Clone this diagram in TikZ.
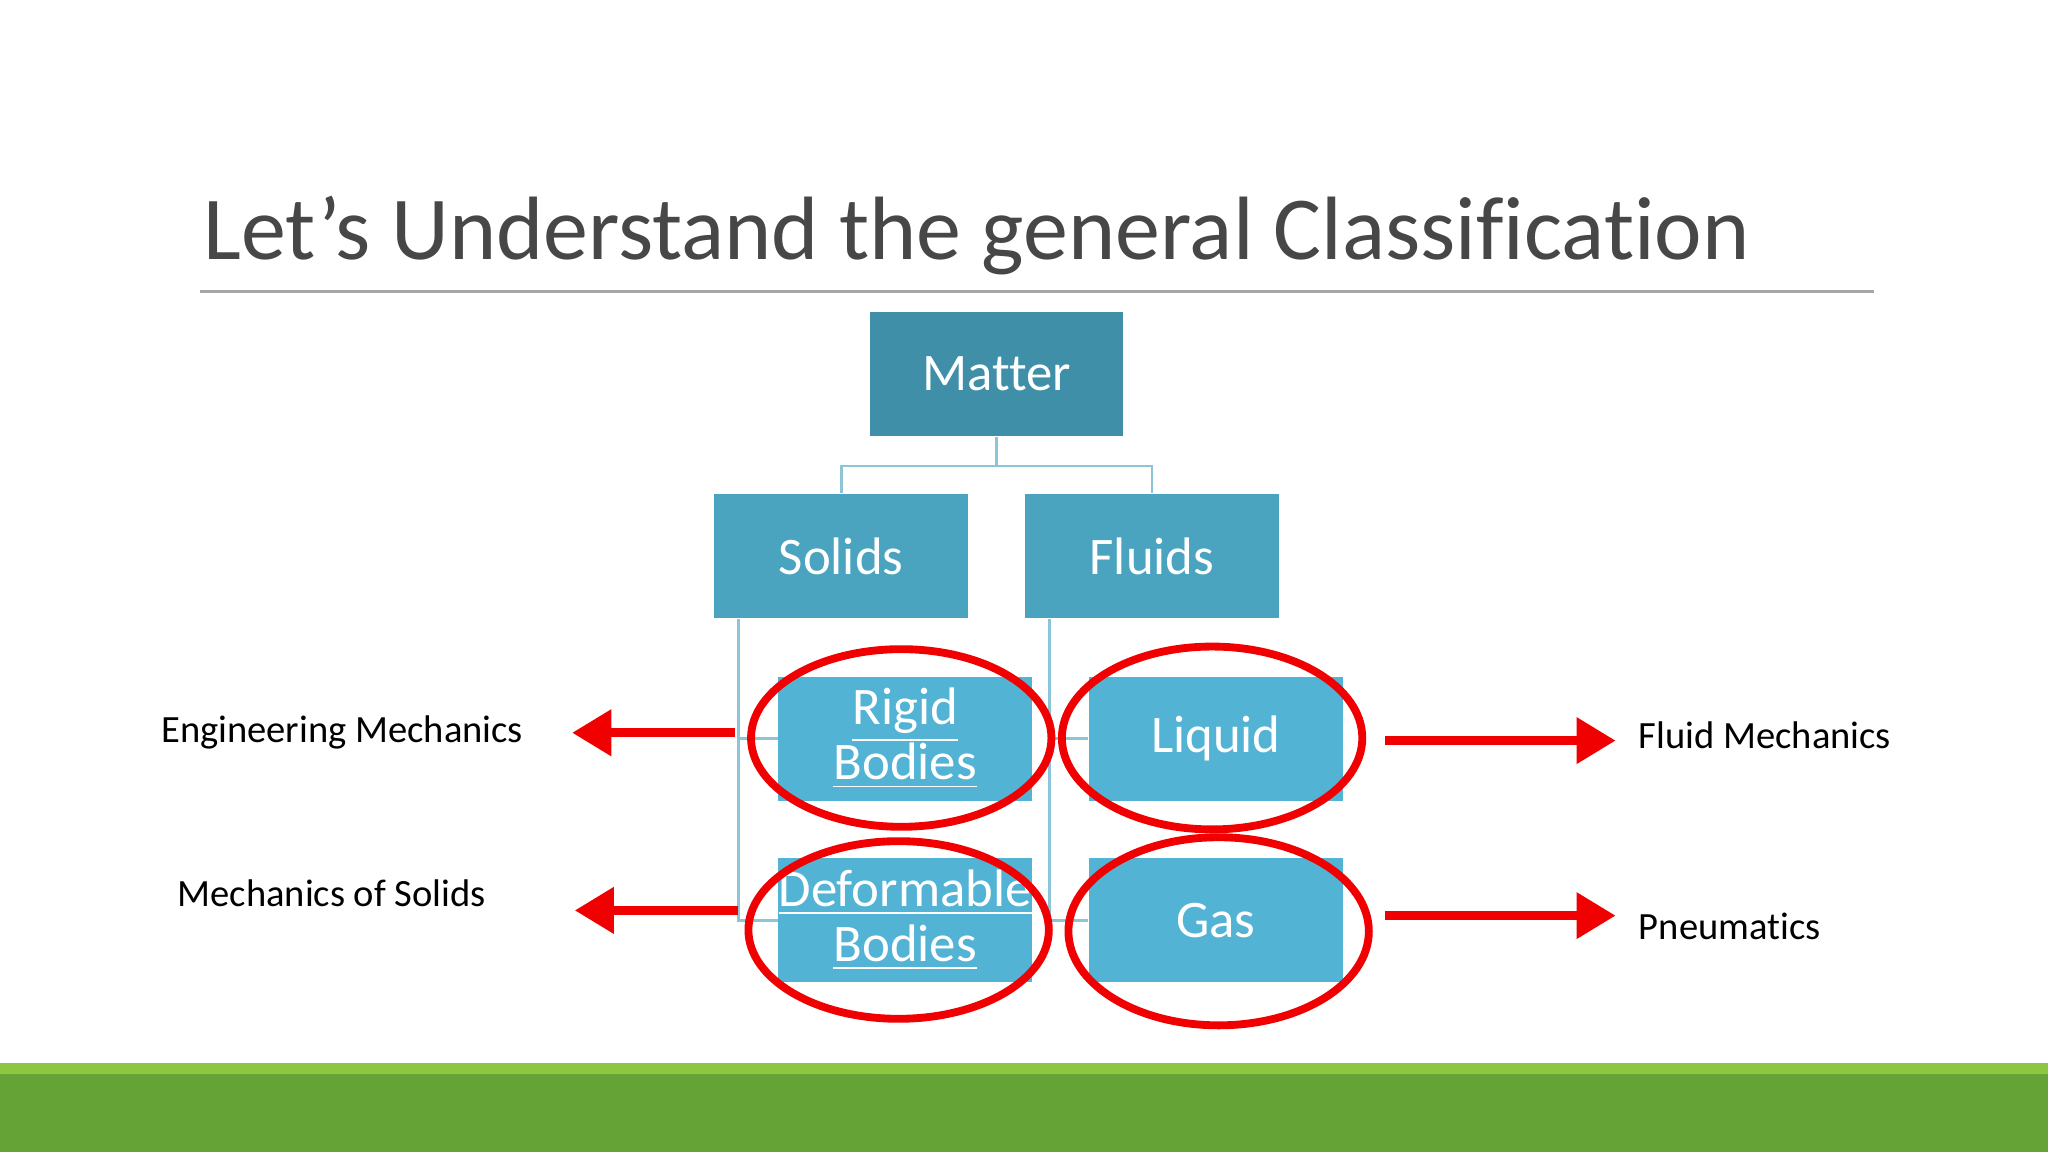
\documentclass[tikz,border=0pt]{standalone}
\usepackage{fontspec}
\setmainfont{Carlito}[Ligatures=NoCommon]
\usetikzlibrary{arrows.meta}
\definecolor{dark}{HTML}{3F8FA8}
\definecolor{mid}{HTML}{4AA3BF}
\definecolor{light}{HTML}{52B3D4}
\definecolor{conn}{HTML}{8CC4D8}
\definecolor{rd}{HTML}{F00000}
\definecolor{gtop}{HTML}{8DC63F}
\definecolor{gbot}{HTML}{66A336}
\definecolor{ttl}{HTML}{474747}
\tikzset{
 box/.style={fill=#1,minimum width=1.94cm,minimum height=0.95cm,text=white,font=\fontsize{11.5}{13}\selectfont,align=center,inner sep=0pt},
 ring/.style={draw=rd,line width=0.06cm},
 redarrow/.style={draw=rd,line width=0.07cm,-{Triangle[length=0.3cm,width=0.34cm]}},
 lab/.style={font=\fontsize{8.4}{10}\selectfont,text=black},
 con/.style={draw=conn,line width=0.6pt}
}
\begin{document}
\begin{tikzpicture}[x=1cm,y=-1cm]
\useasboundingbox (0,0) rectangle (15.68,8.82);
\fill[white] (0,0) rectangle (15.68,8.82);
\fill[gbot] (0,8.14) rectangle (15.68,8.82);
\fill[gtop] (0,8.14) rectangle (15.68,8.22);
\node[anchor=base west,inner sep=0pt,text=ttl,font=\fontsize{19.6}{24}\selectfont] (title) at (1.55,1.99) {Let’s Understand the general Classification};
\draw[gray!70,line width=0.6pt] (1.53,2.23) -- (14.35,2.23);
\node[box=dark] (matter) at (7.63,2.865) {Matter};
\node[box=mid] (solids) at (6.44,4.26) {Solids};
\node[box=mid] (fluids) at (8.82,4.26) {Fluids};
\node[box=light] (rigid) at (6.93,5.655) {\underline{Rigid}\\[-1pt]\underline{Bodies}};
\node[box=light] (liquid) at (9.31,5.655) {Liquid};
\node[box=light] (deform) at (6.93,7.045) {\underline{Deformable}\\[-1pt]\underline{Bodies}};
\node[box=light] (gas) at (9.31,7.045) {Gas};
\draw[con] (matter.south) -- ++(0,0.22) -| (solids.north);
\draw[con] (matter.south) -- ++(0,0.22) -| (fluids.north);
\draw[con] ([xshift=0.19cm]solids.south west) |- (deform.west);
\draw[con] ([xshift=0.19cm]solids.south west) |- (rigid.west);
\draw[con] ([xshift=0.19cm]fluids.south west) |- (gas.west);
\draw[con] ([xshift=0.19cm]fluids.south west) |- (liquid.west);
\draw[ring] (6.90,5.65) ellipse (1.15 and 0.68);
\draw[ring] (9.28,5.65) ellipse (1.15 and 0.70);
\draw[ring] (6.88,7.12) ellipse (1.15 and 0.68);
\draw[ring] (9.33,7.13) ellipse (1.15 and 0.72);
\node[lab] (em) at (2.62,5.61) {Engineering Mechanics};
\node[lab] (ms) at (2.54,6.84) {Mechanics of Solids};
\node[lab,anchor=west,inner sep=0pt] (fm) at (12.54,5.63) {Fluid Mechanics};
\node[lab,anchor=west,inner sep=0pt] (pn) at (12.54,7.09) {Pneumatics};
\coordinate (a1) at (5.63,5.61); \coordinate (b1) at (4.38,5.61);
\coordinate (a2) at (5.65,6.97); \coordinate (b2) at (4.40,6.97);
\coordinate (a3) at (10.60,5.67); \coordinate (b3) at (12.37,5.67);
\coordinate (a4) at (10.60,7.01); \coordinate (b4) at (12.37,7.01);
\draw[redarrow] (a1) -- (b1);
\draw[redarrow] (a2) -- (b2);
\draw[redarrow] (a3) -- (b3);
\draw[redarrow] (a4) -- (b4);
\end{tikzpicture}
\end{document}
